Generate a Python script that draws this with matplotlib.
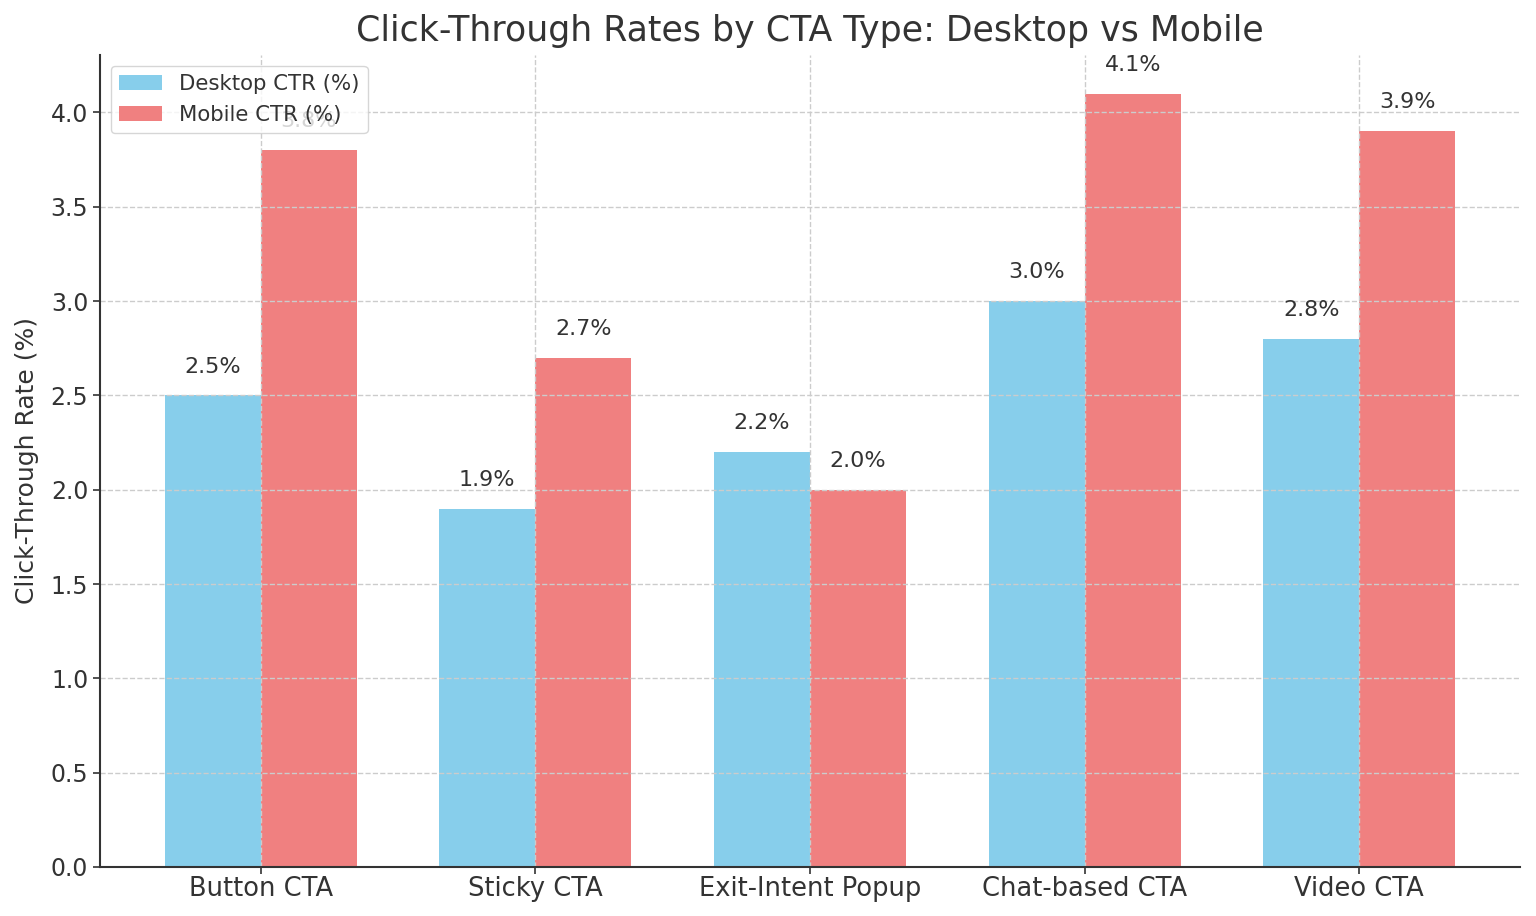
import numpy as np
import matplotlib
matplotlib.use("Agg")
import matplotlib.pyplot as plt

cta_types = ['Button CTA', 'Sticky CTA', 'Exit-Intent Popup', 'Chat-based CTA', 'Video CTA']
desktop_ctr = [2.5, 1.9, 2.2, 3.0, 2.8]
mobile_ctr = [3.8, 2.7, 2.0, 4.1, 3.9]

text_color = '#333333'
plt.rcParams['text.color'] = text_color
plt.rcParams['axes.labelcolor'] = text_color
plt.rcParams['xtick.color'] = text_color
plt.rcParams['ytick.color'] = text_color

x = np.arange(len(cta_types))
width = 0.35

fig = plt.figure(figsize=(15.36, 9.16), dpi=100)
ax = fig.add_axes([0.0651, 0.0535, 0.9245, 0.8865])

bars1 = ax.bar(x - width / 2, desktop_ctr, width, label='Desktop CTR (%)', color='skyblue')
bars2 = ax.bar(x + width / 2, mobile_ctr, width, label='Mobile CTR (%)', color='lightcoral')

# value labels above each bar
for bars in (bars1, bars2):
    for b in bars:
        h = b.get_height()
        ax.text(b.get_x() + b.get_width() / 2, h + 0.1, f'{h:.1f}%',
                ha='center', va='bottom', fontsize=16, color=text_color)

ax.set_title('Click-Through Rates by CTA Type: Desktop vs Mobile', fontsize=25,
             color=text_color, pad=10)
ax.set_ylabel('Click-Through Rate (%)', fontsize=18, labelpad=8)
ax.set_xticks(x)
ax.set_xticklabels(cta_types, fontsize=18.5)
ax.tick_params(axis='y', labelsize=17)
ax.tick_params(axis='x', pad=1.5)
ax.tick_params(axis='both', color=text_color, length=5, width=1.2)

ax.grid(True, linestyle='--', color='#cccccc', linewidth=1.0)
for s in ['top', 'right']:
    ax.spines[s].set_visible(False)
for s in ['left', 'bottom']:
    ax.spines[s].set_color(text_color)
    ax.spines[s].set_linewidth(1.5)

leg = ax.legend(loc='upper left', fontsize=15.3, framealpha=0.8)
leg.get_frame().set_edgecolor('#cccccc')
leg.set_zorder(5)

fig.savefig('out.png', dpi=100)
